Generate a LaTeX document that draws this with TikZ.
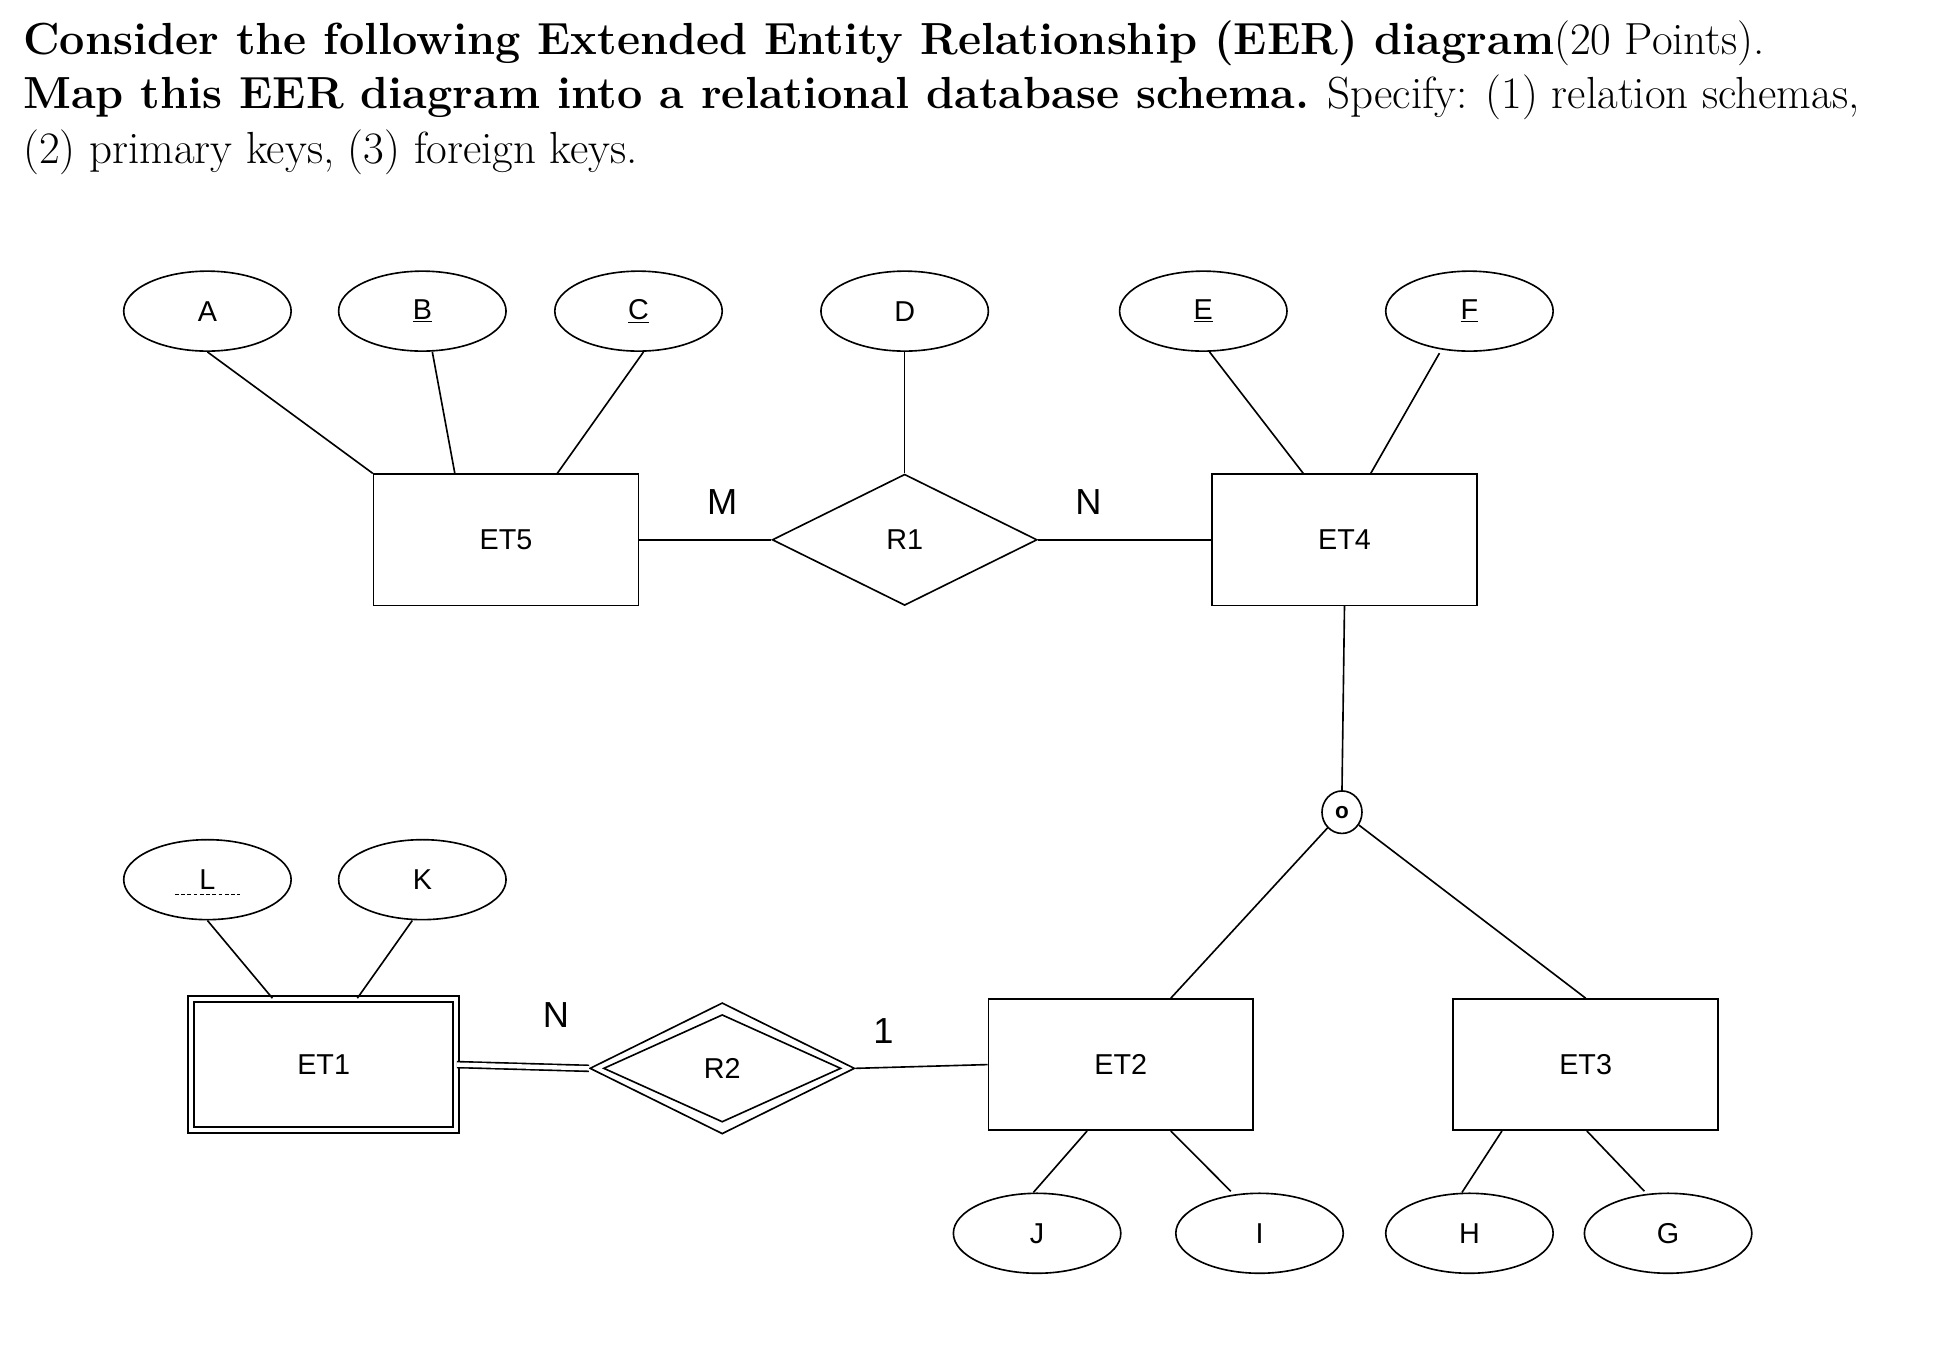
\documentclass[tikz,border=0pt]{standalone}
\usepackage{fontspec}
\newfontfamily\lsans{Liberation Sans}
\usetikzlibrary{shapes.geometric}
\begin{document}
\begin{tikzpicture}[x=1pt,y=-1pt,line width=1.3pt,
  attr/.style={draw,ellipse,minimum width=134pt,minimum height=64pt,inner sep=0pt,font=\lsans\fontsize{23}{23}\selectfont},
  ent/.style={draw,rectangle,minimum width=212pt,minimum height=105pt,inner sep=0pt,font=\lsans\fontsize{23}{23}\selectfont},
  rel/.style={draw,diamond,aspect=2,minimum width=212pt,minimum height=105pt,inner sep=0pt,font=\lsans\fontsize{23}{23}\selectfont},
  card/.style={font=\lsans\fontsize{29}{29}\selectfont},
  ttl/.style={anchor=west,inner sep=0pt,font=\fontsize{36}{36}\selectfont}]
\useasboundingbox (0,0) rectangle (1567,1097);
\node[ttl] (t1) at (18,35) {\textbf{Consider the following Extended Entity Relationship (EER) diagram}(20 Points).};
\node[ttl] (t2) at (18,78) {\textbf{Map this EER diagram into a relational database schema.} Specify: (1) relation schemas,};
\node[ttl] (t3) at (18,122) {(2) primary keys, (3) foreign keys.};
% attributes
\node[attr] (A) at (166,249) {A};
\node[attr] (B) at (338,249) {\underline{B}};
\node[attr] (C) at (511,249) {\underline{C}};
\node[attr] (D) at (724,249) {D};
\node[attr] (E) at (963,249) {\underline{E}};
\node[attr] (F) at (1176,249) {\underline{F}};
\node[attr] (L) at (166,704) {L};
\draw[line width=1pt,dash pattern=on 3pt off 2pt] (140,716) -- (192,716);
\node[attr] (K) at (338,704) {K};
\node[attr] (J) at (830,987) {J};
\node[attr] (I) at (1008,987) {I};
\node[attr] (H) at (1176,987) {H};
\node[attr] (G) at (1335,987) {G};
% entities
\node[ent] (ET5) at (405,432) {ET5};
\node[rel] (R1) at (724,432) {R1};
\node[ent] (ET4) at (1076,432) {ET4};
\node[ent,double,double distance=3.5pt] (ET1) at (259,852) {ET1};
\node[rel,minimum width=190pt,minimum height=86pt] (R2) at (578,855) {R2};
\node[draw,diamond,aspect=2,minimum width=212pt,minimum height=105pt] (R2o) at (578,855) {};
\node[ent] (ET2) at (897,852) {ET2};
\node[ent] (ET3) at (1269,852) {ET3};
\node[draw,ellipse,minimum width=32pt,minimum height=34pt,inner sep=0pt,font=\lsans\bfseries\fontsize{18}{18}\selectfont] (O) at (1074,650) {o};
% connectors
\draw (A.south) -- (ET5.north west);
\draw ([xshift=8pt]B.south) -- ([xshift=-41pt]ET5.north);
\draw ([xshift=4pt]C.south) -- ([xshift=41pt]ET5.north);
\draw (D) -- (R1.north);
\draw ([xshift=5pt]E.south) -- ([xshift=-33pt]ET4.north);
\draw ([xshift=-24pt,yshift=-1pt]F.south) -- ([xshift=21pt]ET4.north);
\draw (ET5.east) -- (R1.west);
\draw (R1.east) -- (ET4.west);
\draw (ET4.south) -- (O.north);
\draw (O) -- ([xshift=40pt]ET2.north);
\draw (O) -- (ET3.north);
\draw (L.south) -- ([xshift=-41pt]ET1.north);
\draw ([xshift=-8pt]K.south) -- ([xshift=27pt]ET1.north);
\draw[double,double distance=3.5pt] (ET1.east) -- (R2o.west);
\draw (R2o.east) -- (ET2.west);
\draw ([xshift=-27pt]ET2.south) -- ([xshift=-3pt]J.north);
\draw ([xshift=40pt]ET2.south) -- ([xshift=-23pt,yshift=1pt]I.north);
\draw ([xshift=-67pt]ET3.south) -- ([xshift=-6pt]H.north);
\draw ([xshift=1pt]ET3.south) -- ([xshift=-19pt,yshift=1pt]G.north);
% cardinalities
\node[card] (cM) at (578,402) {M};
\node[card] (cN) at (871,402) {N};
\node[card] (cN2) at (445,812) {N};
\node[card] (c1) at (707,825) {1};
\end{tikzpicture}
\end{document}
